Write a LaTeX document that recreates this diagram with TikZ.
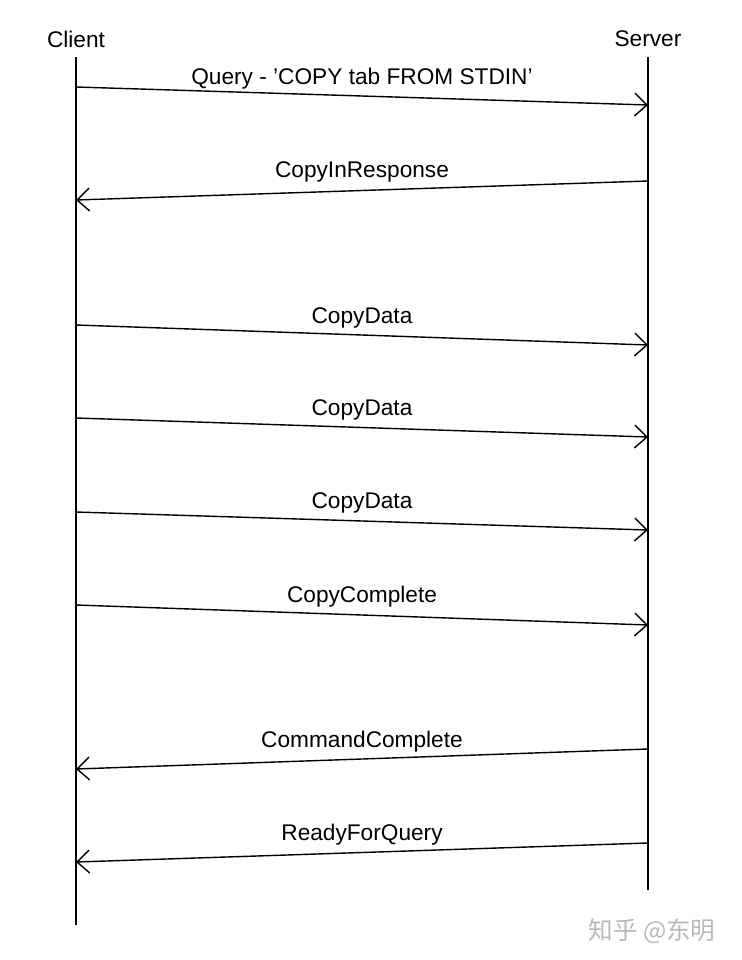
\documentclass[tikz,border=0pt]{standalone}
\usepackage{fontspec}
\setmainfont{Liberation Sans}
\newfontfamily\cjk{Noto Sans CJK SC}
\usetikzlibrary{arrows.meta}
\begin{document}
\begin{tikzpicture}[x=0.02cm,y=-0.02cm,
  life/.style={line width=0.8pt},
  msg/.style={line width=0.8pt,-{Straight Barb[length=7pt,width=13pt,line width=0.8pt]}},
  lbl/.style={font=\fontsize{12.9}{14}\selectfont,inner sep=1pt},
  who/.style={font=\fontsize{12.9}{14}\selectfont}]
\useasboundingbox (0,0) rectangle (742,960);
\node[who] (client) at (76,39) {Client};
\node[who] (server) at (648,39) {Server};
\coordinate (ct) at (76,57); \coordinate (cb) at (76,925);
\coordinate (st) at (648,57); \coordinate (sb) at (648,890);
\draw[life] (ct) -- (cb);
\draw[life] (st) -- (sb);
\foreach \n/\a/\b in {1/87/105,3/325/345,4/418/437,5/512/530,6/605/625}{
  \coordinate (c\n) at (76,\a); \coordinate (s\n) at (648,\b);
  \draw[msg] (c\n) -- (s\n);}
\foreach \n/\a/\b in {2/181/200,7/749/769,8/843/862}{
  \coordinate (s\n) at (648,\a); \coordinate (c\n) at (76,\b);
  \draw[msg] (s\n) -- (c\n);}
\node[lbl] (l1) at (362,79) {Query - ’COPY tab FROM STDIN’};
\node[lbl] (l2) at (362,172) {CopyInResponse};
\node[lbl] (l3) at (362,318) {CopyData};
\node[lbl] (l4) at (362,410) {CopyData};
\node[lbl] (l5) at (362,503) {CopyData};
\node[lbl] (l6) at (362,597) {CopyComplete};
\node[lbl] (l7) at (362,742) {CommandComplete};
\node[lbl] (l8) at (362,835) {ReadyForQuery};
\node[text=gray!55,font=\cjk\fontsize{14}{16}\selectfont] (wm) at (652,931) {知乎 @东明};
\end{tikzpicture}
\end{document}
